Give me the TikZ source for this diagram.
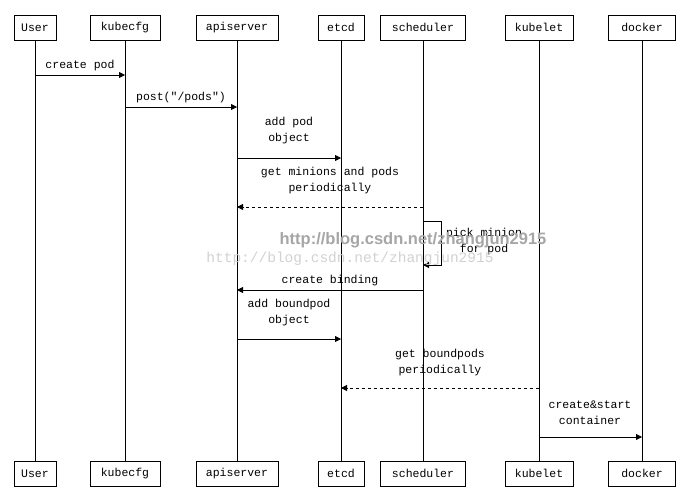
\documentclass[tikz,border=0pt]{standalone}
\usepackage{fontspec}
\setmonofont{Liberation Mono}
\setsansfont{Liberation Sans}
\usetikzlibrary{arrows.meta}
\begin{document}
\begin{tikzpicture}[x=1pt,y=-1pt,
  part/.style={draw,thick,fill=white,minimum height=25pt,inner sep=2pt,font=\ttfamily\fontsize{11.5}{12}\selectfont},
  msg/.style={thick,-{Triangle[length=6pt,width=6pt]}},
  ret/.style={msg,dashed},
  lab/.style={font=\ttfamily\fontsize{11.5}{16}\selectfont,align=center},
  life/.style={thick}]
\useasboundingbox (0,0) rectangle (688,501);
\fill[white] (0,0) rectangle (688,501);
\foreach \n/\t/\x/\w in {u/User/35/42, k/kubecfg/125/70, a/apiserver/237/82, e/etcd/341/46, s/scheduler/423/85, l/kubelet/539/68, d/docker/642/67}{
  \node[part,minimum width=\w pt] (\n t) at (\x,27.5) {\t};
  \node[part,minimum width=\w pt] (\n b) at (\x,473.5) {\t};
  \draw[life] (\n t) -- (\n b);
}
\coordinate (m1s) at (35,75); \coordinate (m1e) at (125,75);
\draw[msg] (m1s) -- (m1e) node[lab,midway,above] {create pod};
\coordinate (m2s) at (125,107); \coordinate (m2e) at (237,107);
\draw[msg] (m2s) -- (m2e) node[lab,midway,above] {post("/pods")};
\coordinate (m3s) at (237,158); \coordinate (m3e) at (341,158);
\draw[msg] (m3s) -- (m3e);
\node[lab] (l3) at (289,131) {add pod\\object};
\coordinate (m4s) at (423,207); \coordinate (m4e) at (237,207);
\draw[ret] (m4s) -- (m4e);
\node[lab] (l4) at (330,181) {get minions and pods\\periodically};
\coordinate (m5a) at (423,221); \coordinate (m5b) at (441,221);
\coordinate (m5c) at (441,265); \coordinate (m5d) at (423,265);
\draw[msg] (m5a) -- (m5b) -- (m5c) -- (m5d);
\node[lab] (l5) at (484,242) {pick minion\\for pod};
\coordinate (m6s) at (423,290); \coordinate (m6e) at (237,290);
\draw[msg] (m6s) -- (m6e) node[lab,midway,above] {create binding};
\coordinate (m7s) at (237,339); \coordinate (m7e) at (341,339);
\draw[msg] (m7s) -- (m7e);
\node[lab] (l7) at (289,313) {add boundpod\\object};
\coordinate (m8s) at (539,388); \coordinate (m8e) at (341,388);
\draw[ret] (m8s) -- (m8e);
\node[lab] (l8) at (440,363) {get boundpods\\periodically};
\coordinate (m9s) at (539,437); \coordinate (m9e) at (642,437);
\draw[msg] (m9s) -- (m9e);
\node[lab] (l9) at (590,413) {create\&start\\container};
\node[font=\sffamily\bfseries\fontsize{16.5}{18}\selectfont,text=gray!70] (w1) at (413,240) {http://blog.csdn.net/zhangjun2915};
\node[font=\ttfamily\fontsize{14.5}{16}\selectfont,text=gray!35] (w2) at (350,259) {http://blog.csdn.net/zhangjun2915};
\end{tikzpicture}
\end{document}
